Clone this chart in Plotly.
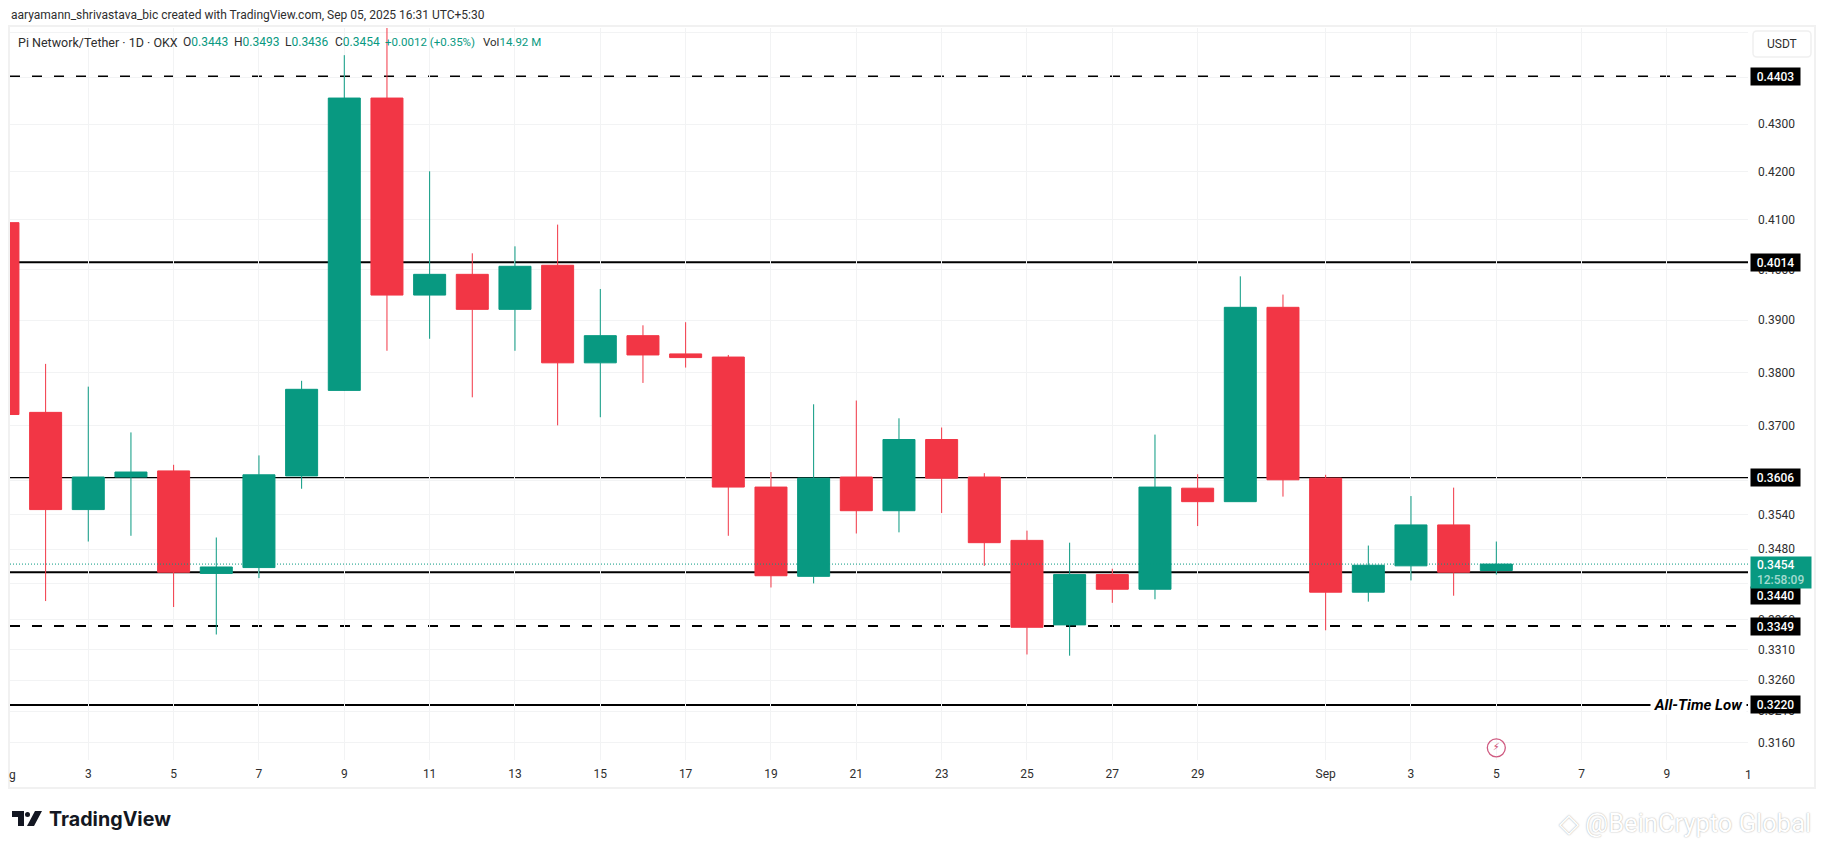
import math
import pandas as pd
import plotly.graph_objects as go

# daily candles, PI/USDT on OKX, 1 Aug to 5 Sep 2025
dates = pd.date_range("2025-08-01", periods=36).strftime("%Y-%m-%d").tolist()
opens = [0.4094, 0.3725, 0.3549, 0.3607, 0.3618, 0.3438, 0.3448, 0.3609, 0.3766, 0.4356, 0.3949, 0.3990,
         0.3921, 0.4008, 0.3818, 0.3870, 0.3835, 0.3829, 0.3589, 0.3433, 0.3607, 0.3547, 0.3675, 0.3607,
         0.3495, 0.3351, 0.3436, 0.3411, 0.3587, 0.3563, 0.3925, 0.3605, 0.3406, 0.3451, 0.3522, 0.3443]
highs = [0.4094, 0.3816, 0.3773, 0.3688, 0.3629, 0.3500, 0.3646, 0.3784, 0.4450, 0.4540, 0.4200, 0.4032,
         0.4046, 0.4090, 0.3961, 0.3890, 0.3896, 0.3833, 0.3616, 0.3740, 0.3747, 0.3714, 0.3697, 0.3614,
         0.3512, 0.3491, 0.3446, 0.3684, 0.3612, 0.3986, 0.3950, 0.3611, 0.3486, 0.3573, 0.3588, 0.3493]
lows = [0.3721, 0.3391, 0.3493, 0.3503, 0.3381, 0.3335, 0.3430, 0.3586, 0.3765, 0.3841, 0.3864, 0.3753,
        0.3841, 0.3701, 0.3716, 0.3780, 0.3809, 0.3503, 0.3414, 0.3421, 0.3507, 0.3509, 0.3543, 0.3451,
        0.3302, 0.3300, 0.3388, 0.3394, 0.3520, 0.3563, 0.3572, 0.3342, 0.3390, 0.3426, 0.3400, 0.3436]
closes = [0.3721, 0.3549, 0.3607, 0.3616, 0.3440, 0.3449, 0.3611, 0.3768, 0.4356, 0.3949, 0.3990, 0.3921,
          0.4006, 0.3818, 0.3870, 0.3833, 0.3828, 0.3589, 0.3434, 0.3605, 0.3547, 0.3675, 0.3605, 0.3491,
          0.3347, 0.3436, 0.3411, 0.3589, 0.3563, 0.3925, 0.3602, 0.3406, 0.3452, 0.3522, 0.3440, 0.3454]

dashed_levels = [0.4403, 0.3349]
solid_levels = [0.4014, 0.3440, 0.3220]
thin_levels = [0.3606]
level_tags = ["0.4403", "0.4014", "0.3606", "0.3349", "0.3220"]
pushed_tag = "0.3440"
last_price = 0.3454
countdown = "12:58:09"
alert_date = "2025-09-05"
alert_price = 0.3152

price_ticks = [0.45, 0.44, 0.43, 0.42, 0.41, 0.40, 0.39, 0.38, 0.37, 0.36, 0.354, 0.348, 0.342, 0.336,
               0.331, 0.326, 0.321, 0.316]
# these sit fully behind a price tag or the currency button
hidden_ticks = [0.45, 0.44, 0.36, 0.342]
date_ticks = ["2025-08-%02d" % d for d in range(3, 30, 2)] + ["2025-09-01", "2025-09-03", "2025-09-05",
                                                               "2025-09-07", "2025-09-09"]
date_labels = [str(d) for d in range(3, 30, 2)] + ["Sep", "3", "5", "7", "9"]

W, H = 1825, 849
LEFT, RIGHT, TOP, BOTTOM = 10, 1748, 28, 760
GREEN, RED = "#089981", "#F23645"
GRID = "#f2f3f4"
FONT = "Roboto"
TEXT = "#2e2e2e"


def px(x):
    return (x - LEFT) / (RIGHT - LEFT)


def py(y):
    return (BOTTOM - y) / (BOTTOM - TOP)


fig = go.Figure(go.Candlestick(
    x=dates, open=opens, high=highs, low=lows, close=closes,
    increasing=dict(line=dict(color=GREEN, width=1), fillcolor=GREEN),
    decreasing=dict(line=dict(color=RED, width=1), fillcolor=RED),
    whiskerwidth=0,
))

# horizontal levels sit under the candles, the last price dots sit over them
for v in dashed_levels:
    fig.add_shape(type="line", xref="paper", x0=0, x1=1, yref="y", y0=v, y1=v, layer="between",
                  line=dict(color="black", width=2, dash="10px,12px"))
for v in solid_levels:
    fig.add_shape(type="line", xref="paper", x0=0, x1=1, yref="y", y0=v, y1=v, layer="between",
                  line=dict(color="black", width=2))
for v in thin_levels:
    fig.add_shape(type="line", xref="paper", x0=0, x1=1, yref="y", y0=v, y1=v, layer="between",
                  line=dict(color="black", width=1.2))
fig.add_shape(type="line", xref="paper", x0=0, x1=1, yref="y", y0=last_price, y1=last_price, layer="above",
              line=dict(color=GREEN, width=1, dash="1px,2px"))

# chart frame
fig.add_shape(type="rect", xref="paper", yref="paper", x0=px(9), x1=px(1815), y0=py(788), y1=py(26),
              layer="below", line=dict(color="#f1f1f1", width=2))

# currency button with rounded corners
bx0, bx1, by0, by1, r = 1753, 1811, 31, 57, 4
fig.add_shape(type="path", xref="paper", yref="paper", fillcolor="white", line=dict(color="#f0f0f0", width=1.5),
              path="M %f %f L %f %f Q %f %f %f %f L %f %f Q %f %f %f %f L %f %f Q %f %f %f %f L %f %f Q %f %f %f %f Z" % (
                  px(bx0 + r), py(by0), px(bx1 - r), py(by0), px(bx1), py(by0), px(bx1), py(by0 + r),
                  px(bx1), py(by1 - r), px(bx1), py(by1), px(bx1 - r), py(by1),
                  px(bx0 + r), py(by1), px(bx0), py(by1), px(bx0), py(by1 - r),
                  px(bx0), py(by0 + r), px(bx0), py(by0), px(bx0 + r), py(by0)))

# TradingView logo
for x0, x1, y0, y1 in [(12, 24, 811, 817), (18, 24, 817, 826)]:
    fig.add_shape(type="rect", xref="paper", yref="paper", x0=px(x0), x1=px(x1), y0=py(y1), y1=py(y0),
                  fillcolor="#131722", line_width=0)
fig.add_shape(type="circle", xref="paper", yref="paper", x0=px(25), x1=px(30), y0=py(817), y1=py(812),
              fillcolor="#131722", line_width=0)
fig.add_shape(type="path", xref="paper", yref="paper", fillcolor="#131722", line_width=0,
              path="M %f %f L %f %f L %f %f L %f %f Z" % (px(35), py(811), px(42), py(811), px(34), py(826),
                                                          px(27), py(826)))


def note(text, x, y, xanchor="left", size=12, color=TEXT, **kw):
    fig.add_annotation(text=text, xref="paper", yref="paper", x=px(x), y=py(y), xanchor=xanchor, yanchor="middle",
                       showarrow=False, font=dict(family=FONT, size=size, color=color), **kw)


def val(s):
    return "<span style='color:%s'>%s</span>" % (GREEN, s)


note("aaryamann_shrivastava_bic created with TradingView.com, Sep 05, 2025 16:31 UTC+5:30", 9, 15)
note("Pi Network/Tether · 1D · OKX", 16, 42, size=12.5)
note("O" + val("0.3443"), 181, 42)
note("H" + val("0.3493"), 232, 42)
note("L" + val("0.3436"), 283, 42)
note("C" + val("0.3454"), 333, 42)
note(val("+0.0012 (+0.35%)"), 383, 42, size=11.5)
note("Vol" + val("14.92 M"), 481, 42, size=11.5)

note("USDT", 1782, 44, xanchor="center")

# price tags on the axis
for tag in level_tags:
    fig.add_annotation(text=tag, xref="paper", yref="y", x=px(1750), y=math.log10(float(tag)), xanchor="left",
                       yanchor="middle", showarrow=False, width=49, height=17, bgcolor="black", borderpad=0,
                       font=dict(family=FONT, size=12, color="white", weight=500))
# pushed down below the last price tag, like the platform does
fig.add_annotation(text=pushed_tag, xref="paper", yref="paper", x=px(1750), y=py(595), xanchor="left",
                   yanchor="middle", showarrow=False, width=49, height=17, bgcolor="black", borderpad=0,
                   font=dict(family=FONT, size=12, color="white", weight=500))
fig.add_annotation(text="\u00a0\u00a0%.4f<br>\u00a0\u00a0<span style='color:#a3dbd0'>%s</span>" % (last_price, countdown),
                   xref="paper", yref="paper", x=px(1750), y=py(556), xanchor="left", yanchor="top",
                   showarrow=False, width=60, height=31, bgcolor=GREEN, borderpad=0, align="left",
                   font=dict(family=FONT, size=12, color="white", weight=500))

fig.add_annotation(text="<b><i>All-Time Low</i></b>", xref="paper", yref="y", x=px(1698.5), y=math.log10(0.322),
                   xanchor="center", showarrow=False, bgcolor="white", borderpad=0, width=95,
                   font=dict(family=FONT, size=15, color="black"))

fig.add_trace(go.Scatter(x=[alert_date], y=[alert_price], mode="markers+text", text=["\u26a1\ufe0e"],
                         textposition="middle center",
                         textfont=dict(family="DejaVu Sans", size=10, color="#cf4a70"),
                         marker=dict(symbol="circle-open", size=18, color="#cf5a80", line=dict(width=1.3)),
                         hoverinfo="skip"))

# clipped time labels at both ends of the axis
note("g", 12, 775, xanchor="center")
note("1", 1748, 775, xanchor="center")

fig.add_annotation(text="TradingView", xref="paper", yref="paper", x=px(47), y=py(819), xanchor="left",
                   yanchor="middle", showarrow=False, font=dict(family="Inter", size=19.7, color="#131722", weight=700))
fig.add_annotation(text="\u25c7 @BeinCrypto Global", xref="paper", yref="paper", x=px(1813), y=py(823), xanchor="right",
                   yanchor="middle", showarrow=False,
                   font=dict(family=FONT, size=25.5, color="white", shadow="0 0 1.5px #9a9a9a"))

fig.update_layout(
    width=W, height=H,
    margin=dict(l=LEFT, r=W - RIGHT, t=TOP, b=H - BOTTOM, pad=0, autoexpand=False),
    paper_bgcolor="white", plot_bgcolor="white",
    showlegend=False, boxgap=0.25, boxgroupgap=0,
    font=dict(family=FONT, size=12, color=TEXT),
    xaxis=dict(
        type="date", range=["2025-08-01 03:58", "2025-09-10 21:34"], rangeslider=dict(visible=False),
        tickmode="array", tickvals=date_ticks, ticktext=date_labels, tickangle=0,
        showgrid=True, gridcolor=GRID, gridwidth=1, zeroline=False, showline=False, ticks="", ticklabelstandoff=5,
        tickfont=dict(family=FONT, size=12, color=TEXT),
    ),
    yaxis=dict(
        type="log", side="right", range=[math.log10(0.3133), math.log10(0.45106)],
        tickmode="array", tickvals=price_ticks,
        ticktext=["" if v in hidden_ticks else "%.4f" % v for v in price_ticks],
        showgrid=True, gridcolor=GRID, gridwidth=1, zeroline=False, showline=False, ticks="", ticklabelstandoff=9,
        tickfont=dict(family=FONT, size=12, color=TEXT),
    ),
)

# the page default body margin would push the chart 8px off
fig.write_html("out.html", config=dict(displayModeBar=False),
               post_script="document.body.style.margin='0';document.body.style.overflow='hidden';")
